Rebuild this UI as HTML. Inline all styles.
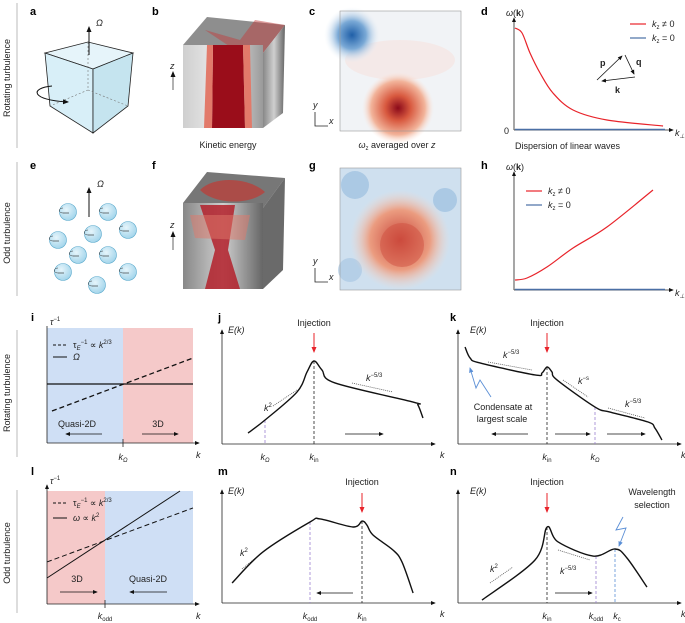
<!DOCTYPE html>
<html><head><meta charset="utf-8"><style>
body{margin:0;background:#fff;}
svg{display:block;font-family:"Liberation Sans",sans-serif;}
.pl{font-weight:bold;font-size:11px;}
.t{font-size:9px;fill:#222;}
.ti{font-size:9px;fill:#222;font-style:italic;}
</style></head><body>
<svg id="fig" width="685" height="623" viewBox="0 0 685 623">
<defs>
<marker id="ah" markerWidth="6" markerHeight="6" refX="5" refY="3" orient="auto"><path d="M0,0.5 L6,3 L0,5.5 Z" fill="#111"/></marker>
<marker id="ahr" markerWidth="6" markerHeight="6" refX="5" refY="3" orient="auto"><path d="M0,0.5 L6,3 L0,5.5 Z" fill="#e8232a"/></marker>
<marker id="ahb" markerWidth="6" markerHeight="6" refX="5" refY="3" orient="auto"><path d="M0,0.5 L6,3 L0,5.5 Z" fill="#5b8fd6"/></marker>
<radialGradient id="gblue" cx="0.5" cy="0.5" r="0.5"><stop offset="0" stop-color="#1f5fa8"/><stop offset="0.5" stop-color="#7aa9d6"/><stop offset="1" stop-color="#e8f0f8" stop-opacity="0"/></radialGradient>
<radialGradient id="gred" cx="0.5" cy="0.5" r="0.5"><stop offset="0" stop-color="#8b0a1a"/><stop offset="0.35" stop-color="#d8593f"/><stop offset="0.75" stop-color="#f2b49b"/><stop offset="1" stop-color="#fbe6dc" stop-opacity="0"/></radialGradient>
<radialGradient id="gred2" cx="0.5" cy="0.5" r="0.5"><stop offset="0" stop-color="#c8453a"/><stop offset="0.6" stop-color="#eb9c80"/><stop offset="1" stop-color="#f7d8c9" stop-opacity="0"/></radialGradient>
<radialGradient id="sph" cx="0.4" cy="0.35" r="0.7"><stop offset="0" stop-color="#e6f5fb"/><stop offset="1" stop-color="#9fd3ea"/></radialGradient>
<linearGradient id="gray1" x1="0" y1="0" x2="1" y2="0"><stop offset="0" stop-color="#cfcfcf"/><stop offset="0.5" stop-color="#eeeeee"/><stop offset="1" stop-color="#9a9a9a"/></linearGradient>
<linearGradient id="gray2" x1="0" y1="0" x2="1" y2="0"><stop offset="0" stop-color="#888"/><stop offset="0.5" stop-color="#cfcfcf"/><stop offset="1" stop-color="#666"/></linearGradient>
</defs>

<line x1="17" y1="3" x2="17" y2="148" stroke="#bbb"/>
<line x1="17" y1="162" x2="17" y2="296" stroke="#bbb"/>
<line x1="17" y1="330" x2="17" y2="457" stroke="#bbb"/>
<line x1="17" y1="490" x2="17" y2="613" stroke="#bbb"/>
<text class="t" font-size="10" transform="translate(10,78) rotate(-90)" text-anchor="middle">Rotating turbulence</text>
<text class="t" font-size="10" transform="translate(10,233) rotate(-90)" text-anchor="middle">Odd turbulence</text>
<text class="t" font-size="10" transform="translate(10,393) rotate(-90)" text-anchor="middle">Rotating turbulence</text>
<text class="t" font-size="10" transform="translate(10,553) rotate(-90)" text-anchor="middle">Odd turbulence</text>

<g class="pl">
<text x="30" y="15">a</text><text x="152" y="15">b</text><text x="309" y="15">c</text><text x="481" y="15">d</text>
<text x="30" y="169">e</text><text x="152" y="169">f</text><text x="309" y="169">g</text><text x="481" y="169">h</text>
<text x="31" y="321">i</text><text x="218" y="321">j</text><text x="450" y="321">k</text>
<text x="31" y="475">l</text><text x="218" y="475">m</text><text x="450" y="475">n</text>
</g>

<g>
<polygon points="45,53 88,42 133,53 93,69" fill="#e6f4fa" stroke="#222" stroke-width="0.8"/>
<polygon points="45,53 93,69 93,133 50,106" fill="#d8eff8" stroke="#222" stroke-width="0.8"/>
<polygon points="93,69 133,53 128,106 93,133" fill="#c5e4ef" stroke="#222" stroke-width="0.8"/>
<line x1="88" y1="42" x2="88" y2="90" stroke="#777" stroke-dasharray="2,2" stroke-width="0.6"/>
<line x1="88" y1="90" x2="50" y2="106" stroke="#777" stroke-dasharray="2,2" stroke-width="0.6"/>
<line x1="88" y1="90" x2="128" y2="106" stroke="#777" stroke-dasharray="2,2" stroke-width="0.6"/>
<line x1="89" y1="55" x2="89" y2="27" stroke="#111" stroke-width="1" marker-end="url(#ah)"/>
<text x="96" y="26" class="ti">Ω</text>
<path d="M52,86 C30,88 30,100 68,102" fill="none" stroke="#111" stroke-width="1" marker-end="url(#ah)"/>
</g>

<g>
<polygon points="183,45 207,17 285,25 263,53" fill="#8e8e8e"/>
<polygon points="205,30 240,40 255,20 285,25 263,53 235,50" fill="#c04040" opacity="0.5"/>
<rect x="183" y="45" width="80" height="83" fill="url(#gray1)"/>
<path d="M213,45 L243,45 L245,128 L212,128 Z" fill="#9a0d1a"/>
<path d="M207,45 L213,45 L212,128 L204,128 Z" fill="#e27a6a"/>
<path d="M243,45 L250,45 L252,128 L245,128 Z" fill="#e27a6a"/>
<polygon points="263,53 285,25 283,113 263,128" fill="url(#gray2)"/>
<line x1="173" y1="90" x2="173" y2="72" stroke="#666" stroke-width="1" marker-end="url(#ah)"/>
<text x="170" y="69" class="ti">z</text>
<text x="228" y="148" class="t" font-size="10" text-anchor="middle">Kinetic energy</text>
</g>

<g>
<rect x="340" y="11" width="121" height="120" fill="#f1f3f6"/>
<ellipse cx="400" cy="60" rx="55" ry="20" fill="#f6e3df" opacity="0.6"/>
<circle cx="352" cy="35" r="28" fill="url(#gblue)"/>
<circle cx="398" cy="108" r="36" fill="url(#gred)"/>
<rect x="340" y="11" width="121" height="120" fill="none" stroke="#999" stroke-width="0.6"/>
<polyline points="315,112 315,126 328,126" fill="none" stroke="#222" stroke-width="0.8"/>
<text x="313" y="108" class="ti">y</text><text x="329" y="124" class="ti">x</text>
<text x="397" y="148" class="t" font-size="10" text-anchor="middle"><tspan font-style="italic">ω</tspan><tspan font-size="6" dy="2">z</tspan><tspan dy="-2"> averaged over </tspan><tspan font-style="italic">z</tspan></text>
</g>

<g id="pd">
<line x1="514" y1="130" x2="514" y2="18" stroke="#222" stroke-width="0.8" marker-end="url(#ah)"/>
<line x1="514" y1="130" x2="673" y2="130" stroke="#222" stroke-width="0.8" marker-end="url(#ah)"/>
<text x="506" y="16" class="t"><tspan font-style="italic">ω</tspan>(<tspan font-weight="bold">k</tspan>)</text>
<text x="504" y="134" class="t">0</text>
<text x="675" y="136" class="ti">k<tspan font-size="6" dy="2">⊥</tspan></text>
<line x1="630" y1="24" x2="646" y2="24" stroke="#e8232a" stroke-width="1.2"/>
<line x1="630" y1="38" x2="646" y2="38" stroke="#4a6fa5" stroke-width="1.2"/>
<text x="652" y="27" class="t"><tspan font-style="italic">k</tspan><tspan font-size="6" dy="2">z</tspan><tspan dy="-2"> ≠ 0</tspan></text>
<text x="652" y="41" class="t"><tspan font-style="italic">k</tspan><tspan font-size="6" dy="2">z</tspan><tspan dy="-2"> = 0</tspan></text>
<line x1="597" y1="80" x2="622" y2="56" stroke="#111" stroke-width="0.8" marker-end="url(#ah)"/>
<line x1="625" y1="55" x2="634" y2="74" stroke="#111" stroke-width="0.8" marker-end="url(#ah)"/>
<line x1="635" y1="77" x2="602" y2="81" stroke="#111" stroke-width="0.8" marker-end="url(#ah)"/>
<text x="600" y="66" class="t" font-weight="bold">p</text><text x="636" y="65" class="t" font-weight="bold">q</text><text x="615" y="93" class="t" font-weight="bold">k</text>
<text x="515" y="149" class="t" font-size="10">Dispersion of linear waves</text>
</g>

<g id="pe">
<line x1="89" y1="217" x2="89" y2="188" stroke="#111" stroke-width="1" marker-end="url(#ah)"/>
<text x="97" y="187" class="ti">Ω</text>
</g>

<g>
<polygon points="183,203 207,172 285,178 263,208" fill="#777"/>
<path d="M200,190 C215,175 250,178 265,192 C250,205 215,205 200,190 Z" fill="#c23a35" opacity="0.7"/>
<rect x="183" y="203" width="80" height="86" fill="url(#gray2)"/>
<path d="M200,205 L235,205 L228,250 L240,289 L205,289 L215,250 Z" fill="#b3202a" opacity="0.85"/>
<path d="M190,215 L250,215 L245,240 L195,238 Z" fill="#e0786a" opacity="0.5"/>
<polygon points="263,208 285,178 283,270 263,289" fill="#6a6a6a"/>
<line x1="173" y1="250" x2="173" y2="232" stroke="#666" stroke-width="1" marker-end="url(#ah)"/>
<text x="170" y="228" class="ti">z</text>
</g>

<g>
<rect x="340" y="168" width="121" height="122" fill="#cfe0ef"/>
<circle cx="355" cy="185" r="14" fill="#9bbfe0" opacity="0.7"/>
<circle cx="445" cy="200" r="12" fill="#9bbfe0" opacity="0.7"/>
<circle cx="350" cy="270" r="12" fill="#a9c8e4" opacity="0.7"/>
<circle cx="400" cy="240" r="50" fill="url(#gred2)"/>
<circle cx="402" cy="245" r="22" fill="#d05040" opacity="0.5"/>
<rect x="340" y="168" width="121" height="122" fill="none" stroke="#999" stroke-width="0.6"/>
<polyline points="315,268 315,282 328,282" fill="none" stroke="#222" stroke-width="0.8"/>
<text x="313" y="264" class="ti">y</text><text x="329" y="280" class="ti">x</text>
</g>

<g id="ph">
<line x1="514" y1="290" x2="514" y2="172" stroke="#222" stroke-width="0.8" marker-end="url(#ah)"/>
<line x1="514" y1="290" x2="673" y2="290" stroke="#222" stroke-width="0.8" marker-end="url(#ah)"/>
<text x="506" y="170" class="t"><tspan font-style="italic">ω</tspan>(<tspan font-weight="bold">k</tspan>)</text>
<text x="675" y="296" class="ti">k<tspan font-size="6" dy="2">⊥</tspan></text>
<line x1="526" y1="191" x2="542" y2="191" stroke="#e8232a" stroke-width="1.2"/>
<line x1="526" y1="205" x2="542" y2="205" stroke="#4a6fa5" stroke-width="1.2"/>
<text x="548" y="194" class="t"><tspan font-style="italic">k</tspan><tspan font-size="6" dy="2">z</tspan><tspan dy="-2"> ≠ 0</tspan></text>
<text x="548" y="208" class="t"><tspan font-style="italic">k</tspan><tspan font-size="6" dy="2">z</tspan><tspan dy="-2"> = 0</tspan></text>
</g>

<g id="pi">
<rect x="47" y="328" width="76" height="115" fill="#cfdff5"/>
<rect x="123" y="328" width="70" height="115" fill="#f5c9c9"/>
<line x1="47" y1="443" x2="47" y2="326" stroke="#222" stroke-width="0.8"/>
<line x1="47" y1="443" x2="199" y2="443" stroke="#222" stroke-width="0.8" marker-end="url(#ah)"/>
<line x1="123" y1="439" x2="123" y2="447" stroke="#222" stroke-width="0.8"/>
<text x="50" y="325" class="ti">τ<tspan font-size="6" dy="-4" font-style="normal">−1</tspan></text>
<line x1="53" y1="345" x2="67" y2="345" stroke="#111" stroke-dasharray="3,2"/>
<text x="73" y="348" class="t">τ<tspan font-size="6" dy="2" font-style="italic">E</tspan><tspan font-size="6" dy="-6">−1</tspan><tspan dy="4"> ∝ </tspan><tspan font-style="italic">k</tspan><tspan font-size="6" dy="-4">2/3</tspan></text>
<line x1="53" y1="357" x2="67" y2="357" stroke="#111"/>
<text x="73" y="360" class="ti">Ω</text>
<text x="77" y="427" class="t" text-anchor="middle">Quasi-2D</text>
<line x1="102" y1="434" x2="66" y2="434" stroke="#111" stroke-width="0.8" marker-end="url(#ah)"/>
<text x="158" y="427" class="t" text-anchor="middle">3D</text>
<line x1="142" y1="434" x2="178" y2="434" stroke="#111" stroke-width="0.8" marker-end="url(#ah)"/>
<text x="123" y="460" class="ti" text-anchor="middle">k<tspan font-size="6" dy="2">Ω</tspan></text>
<text x="196" y="458" class="ti">k</text>
</g>

<g id="pl">
<rect x="47" y="491" width="58" height="113" fill="#f5c9c9"/>
<rect x="105" y="491" width="88" height="113" fill="#cfdff5"/>
<line x1="47" y1="604" x2="47" y2="485" stroke="#222" stroke-width="0.8" marker-end="url(#ah)"/>
<line x1="47" y1="604" x2="199" y2="604" stroke="#222" stroke-width="0.8" marker-end="url(#ah)"/>
<line x1="105" y1="600" x2="105" y2="608" stroke="#222" stroke-width="0.8"/>
<text x="50" y="484" class="ti">τ<tspan font-size="6" dy="-4" font-style="normal">−1</tspan></text>
<line x1="53" y1="503" x2="67" y2="503" stroke="#111" stroke-dasharray="3,2"/>
<text x="73" y="506" class="t">τ<tspan font-size="6" dy="2" font-style="italic">E</tspan><tspan font-size="6" dy="-6">−1</tspan><tspan dy="4"> ∝ </tspan><tspan font-style="italic">k</tspan><tspan font-size="6" dy="-4">2/3</tspan></text>
<line x1="53" y1="518" x2="67" y2="518" stroke="#111"/>
<text x="73" y="521" class="t"><tspan font-style="italic">ω</tspan> ∝ <tspan font-style="italic">k</tspan><tspan font-size="6" dy="-4">2</tspan></text>
<text x="77" y="582" class="t" text-anchor="middle">3D</text>
<line x1="60" y1="592" x2="97" y2="592" stroke="#111" stroke-width="0.8" marker-end="url(#ah)"/>
<text x="148" y="582" class="t" text-anchor="middle">Quasi-2D</text>
<line x1="167" y1="592" x2="130" y2="592" stroke="#111" stroke-width="0.8" marker-end="url(#ah)"/>
<text x="105" y="619" class="ti" text-anchor="middle">k<tspan font-size="6" dy="2" font-style="normal">odd</tspan></text>
<text x="196" y="619" class="ti">k</text>
</g>

<g id="pj">
<line x1="222" y1="444" x2="222" y2="330" stroke="#222" stroke-width="0.8" marker-end="url(#ah)"/>
<line x1="222" y1="444" x2="435" y2="444" stroke="#222" stroke-width="0.8" marker-end="url(#ah)"/>
<text x="228" y="333" class="ti">E(k)</text>
<text x="440" y="458" class="ti">k</text>
<text x="314" y="326" class="t" text-anchor="middle">Injection</text>
<line x1="314" y1="333" x2="314" y2="352" stroke="#e8232a" marker-end="url(#ahr)"/>
<line x1="265" y1="420" x2="265" y2="444" stroke="#9b7fd1" stroke-dasharray="3,2" stroke-width="0.8"/>
<line x1="314" y1="361" x2="314" y2="444" stroke="#222" stroke-dasharray="3,2" stroke-width="0.8"/>
<line x1="273" y1="406" x2="297" y2="390" stroke="#555" stroke-dasharray="1,1" stroke-width="0.8"/>
<text x="264" y="411" class="ti">k<tspan font-size="6" dy="-4" font-style="normal">2</tspan></text>
<line x1="352" y1="383" x2="393" y2="392" stroke="#555" stroke-dasharray="1,1" stroke-width="0.8"/>
<text x="366" y="381" class="ti">k<tspan font-size="6" dy="-4" font-style="normal">−5/3</tspan></text>
<line x1="345" y1="434" x2="383" y2="434" stroke="#111" stroke-width="0.8" marker-end="url(#ah)"/>
<text x="265" y="460" class="ti" text-anchor="middle">k<tspan font-size="6" dy="2">Ω</tspan></text>
<text x="314" y="460" class="ti" text-anchor="middle">k<tspan font-size="6" dy="2" font-style="normal">in</tspan></text>
</g>

<g id="pk">
<line x1="458" y1="444" x2="458" y2="330" stroke="#222" stroke-width="0.8" marker-end="url(#ah)"/>
<line x1="458" y1="444" x2="681" y2="444" stroke="#222" stroke-width="0.8" marker-end="url(#ah)"/>
<text x="470" y="333" class="ti">E(k)</text>
<text x="681" y="458" class="ti">k</text>
<text x="547" y="326" class="t" text-anchor="middle">Injection</text>
<line x1="547" y1="333" x2="547" y2="352" stroke="#e8232a" marker-end="url(#ahr)"/>
<line x1="547" y1="367" x2="547" y2="444" stroke="#222" stroke-dasharray="3,2" stroke-width="0.8"/>
<line x1="595" y1="407" x2="595" y2="444" stroke="#9b7fd1" stroke-dasharray="3,2" stroke-width="0.8"/>
<line x1="488" y1="362" x2="532" y2="370" stroke="#555" stroke-dasharray="1,1" stroke-width="0.8"/>
<text x="503" y="358" class="ti">k<tspan font-size="6" dy="-4" font-style="normal">−5/3</tspan></text>
<line x1="563" y1="380" x2="588" y2="397" stroke="#555" stroke-dasharray="1,1" stroke-width="0.8"/>
<text x="578" y="384" class="ti">k<tspan font-size="6" dy="-4" font-style="normal">−s</tspan></text>
<line x1="608" y1="408" x2="645" y2="418" stroke="#555" stroke-dasharray="1,1" stroke-width="0.8"/>
<text x="625" y="407" class="ti">k<tspan font-size="6" dy="-4" font-style="normal">−5/3</tspan></text>
<path d="M491,397 L480,380 L476,388 L470,368" fill="none" stroke="#5b8fd6" stroke-width="0.9" marker-end="url(#ahb)"/>
<text x="503" y="410" class="t" text-anchor="middle">Condensate at</text>
<text x="502" y="422" class="t" text-anchor="middle">largest scale</text>
<line x1="528" y1="434" x2="492" y2="434" stroke="#111" stroke-width="0.8" marker-end="url(#ah)"/>
<line x1="555" y1="434" x2="590" y2="434" stroke="#111" stroke-width="0.8" marker-end="url(#ah)"/>
<line x1="607" y1="434" x2="645" y2="434" stroke="#111" stroke-width="0.8" marker-end="url(#ah)"/>
<text x="547" y="460" class="ti" text-anchor="middle">k<tspan font-size="6" dy="2" font-style="normal">in</tspan></text>
<text x="595" y="460" class="ti" text-anchor="middle">k<tspan font-size="6" dy="2">Ω</tspan></text>
</g>

<g id="pm">
<line x1="222" y1="603" x2="222" y2="490" stroke="#222" stroke-width="0.8" marker-end="url(#ah)"/>
<line x1="222" y1="603" x2="435" y2="603" stroke="#222" stroke-width="0.8" marker-end="url(#ah)"/>
<text x="228" y="494" class="ti">E(k)</text>
<text x="440" y="617" class="ti">k</text>
<text x="362" y="485" class="t" text-anchor="middle">Injection</text>
<line x1="362" y1="493" x2="362" y2="512" stroke="#e8232a" marker-end="url(#ahr)"/>
<line x1="310" y1="522" x2="310" y2="603" stroke="#9b7fd1" stroke-dasharray="3,2" stroke-width="0.8"/>
<line x1="362" y1="521" x2="362" y2="603" stroke="#222" stroke-dasharray="3,2" stroke-width="0.8"/>
<line x1="242" y1="569" x2="263" y2="552" stroke="#555" stroke-dasharray="1,1" stroke-width="0.8"/>
<text x="240" y="556" class="ti">k<tspan font-size="6" dy="-4" font-style="normal">2</tspan></text>
<line x1="353" y1="593" x2="317" y2="593" stroke="#111" stroke-width="0.8" marker-end="url(#ah)"/>
<text x="310" y="619" class="ti" text-anchor="middle">k<tspan font-size="6" dy="2" font-style="normal">odd</tspan></text>
<text x="362" y="619" class="ti" text-anchor="middle">k<tspan font-size="6" dy="2" font-style="normal">in</tspan></text>
</g>

<g id="pn">
<line x1="458" y1="603" x2="458" y2="490" stroke="#222" stroke-width="0.8" marker-end="url(#ah)"/>
<line x1="458" y1="603" x2="681" y2="603" stroke="#222" stroke-width="0.8" marker-end="url(#ah)"/>
<text x="470" y="494" class="ti">E(k)</text>
<text x="681" y="617" class="ti">k</text>
<text x="547" y="485" class="t" text-anchor="middle">Injection</text>
<line x1="547" y1="493" x2="547" y2="512" stroke="#e8232a" marker-end="url(#ahr)"/>
<line x1="547" y1="527" x2="547" y2="603" stroke="#222" stroke-dasharray="3,2" stroke-width="0.8"/>
<line x1="596" y1="556" x2="596" y2="603" stroke="#9b7fd1" stroke-dasharray="3,2" stroke-width="0.8"/>
<line x1="615" y1="549" x2="615" y2="603" stroke="#5b8fd6" stroke-dasharray="3,2" stroke-width="0.8"/>
<line x1="490" y1="583" x2="513" y2="567" stroke="#555" stroke-dasharray="1,1" stroke-width="0.8"/>
<text x="490" y="572" class="ti">k<tspan font-size="6" dy="-4" font-style="normal">2</tspan></text>
<line x1="558" y1="550" x2="590" y2="560" stroke="#555" stroke-dasharray="1,1" stroke-width="0.8"/>
<text x="560" y="574" class="ti">k<tspan font-size="6" dy="-4" font-style="normal">−5/3</tspan></text>
<text x="652" y="495" class="t" text-anchor="middle">Wavelength</text>
<text x="652" y="508" class="t" text-anchor="middle">selection</text>
<path d="M623,517 L616,530 L626,528 L619,546" fill="none" stroke="#5b8fd6" stroke-width="0.9" marker-end="url(#ahb)"/>
<line x1="555" y1="593" x2="592" y2="593" stroke="#111" stroke-width="0.8" marker-end="url(#ah)"/>
<text x="547" y="619" class="ti" text-anchor="middle">k<tspan font-size="6" dy="2" font-style="normal">in</tspan></text>
<text x="596" y="619" class="ti" text-anchor="middle">k<tspan font-size="6" dy="2" font-style="normal">odd</tspan></text>
<text x="617" y="619" class="ti" text-anchor="middle">k<tspan font-size="6" dy="2" font-style="normal">c</tspan></text>
</g>
</svg>
<script>
const dK = [0, 4.7, 10, 16.7, 25.3, 38.7, 61.3, 98.7];
const dW = [102, 97, 77, 57, 37, 20, 10, 4];
const hK = [0, 8, 21.3, 38.7, 61.3, 92];
const hW = [10, 12, 23, 42, 63, 100];
const iK = [0, 100];
const iOmega = [51.3, 51.3];
const iTauE = [27.8, 73.9];
const lK = [0, 91.1];
const lOmega = [23, 100];
const lKe = [0, 100];
const lTauE = [37.2, 85];
const jK = [12.4, 20.5, 35.7, 40.5, 43.8, 47.6, 53.8, 91, 93.3, 95.7];
const jE = [9.9, 21.6, 46.8, 64.9, 74.8, 66.7, 55, 37.8, 35.1, 23.4];
const kK = [3.2, 5.5, 10, 35, 38.2, 40.5, 42.7, 45, 62.3, 69.1, 86.4, 89.5, 92.7];
const kE = [87.4, 77.5, 73, 62.2, 64, 69.4, 64.9, 57.7, 33.3, 28.8, 19.8, 14.4, 3.6];
const mK = [4.8, 19.5, 41.9, 46.7, 62.4, 66.7, 69, 71.9, 81.4, 85.7, 91];
const mE = [18.2, 46.4, 73.6, 76.4, 69.1, 74.5, 70.9, 61.8, 48.2, 37.3, 9.1];
const nK = [10.9, 35, 40.5, 45.5, 61.4, 71.4, 76.8, 85.9];
const nE = [2.7, 39.1, 69.1, 55.5, 42.7, 49.1, 40.9, 14.5];
const NS = 'http://www.w3.org/2000/svg';
function axis(x0, w, y0, h) { return { x: v => x0 + v * w / 100, y: v => y0 - v * h / 100 }; }
function smooth(pts) {
  let d = 'M' + pts[0][0] + ',' + pts[0][1];
  for (let i = 0; i < pts.length - 1; i++) {
    const p0 = pts[Math.max(i - 1, 0)], p1 = pts[i], p2 = pts[i + 1], p3 = pts[Math.min(i + 2, pts.length - 1)];
    const c1 = [p1[0] + (p2[0] - p0[0]) / 6, p1[1] + (p2[1] - p0[1]) / 6];
    const c2 = [p2[0] - (p3[0] - p1[0]) / 6, p2[1] - (p3[1] - p1[1]) / 6];
    d += ' C' + c1.join(',') + ' ' + c2.join(',') + ' ' + p2.join(',');
  }
  return d;
}
function curve(gid, ax, xs, ys, stroke, width, dash, isSmooth) {
  const pts = xs.map((v, i) => [ax.x(v), ax.y(ys[i])]);
  const p = document.createElementNS(NS, 'path');
  p.setAttribute('d', isSmooth ? smooth(pts) : 'M' + pts.map(q => q.join(',')).join(' L'));
  p.setAttribute('fill', 'none');
  p.setAttribute('stroke', stroke);
  p.setAttribute('stroke-width', width);
  if (dash) p.setAttribute('stroke-dasharray', dash);
  document.getElementById(gid).appendChild(p);
  return p;
}
let el;
const axD = axis(515, 150, 130, 100);
el = curve('pd', axD, dK, dW, '#e8232a', 1.2, null, true);


el = curve('pd', axD, [0, 100], [0.5, 0.5], '#4a6fa5', 1.6, null, false);


const axH = axis(515, 150, 290, 100);
el = curve('ph', axH, hK, hW, '#e8232a', 1.2, null, true);


el = curve('ph', axH, [0, 100], [0.5, 0.5], '#4a6fa5', 1.6, null, false);


const axI = axis(47, 146, 443, 115);
el = curve('pi', axI, iK, iOmega, '#111', 1.3, null, false);


el = curve('pi', axI, [3.4, 100], iTauE, '#111', 1.3, '5,3', false);


const axL = axis(47, 146, 604, 113);
el = curve('pl', axL, lK, lOmega, '#111', 1, null, false);


el = curve('pl', axL, lKe, lTauE, '#111', 1, '5,3', false);


el = curve('pj', axis(222, 210, 444, 111), jK, jE, '#111', 1.4, null, true);


el = curve('pk', axis(458, 220, 444, 111), kK, kE, '#111', 1.4, null, true);


el = curve('pm', axis(222, 210, 603, 110), mK, mE, '#111', 1.4, null, true);


el = curve('pn', axis(458, 220, 603, 110), nK, nE, '#111', 1.4, null, true);


[[68,212],[108,212],[58,240],[93,234],[128,230],[78,255],[108,255],[63,272],[128,272],[97,285]].forEach(c => {
  const g = document.createElementNS(NS, 'g');
  
  
  g.innerHTML = '<circle cx="' + c[0] + '" cy="' + c[1] + '" r="8.5" fill="url(#sph)" stroke="#5aa9cc" stroke-width="0.6"/>' +
    '<path d="M' + (c[0]-5) + ',' + (c[1]-4) + ' a3,2 0 1 0 0,5" fill="none" stroke="#333" stroke-width="0.5"/>' +
    '<line x1="' + (c[0]-5) + '" y1="' + (c[1]+1) + '" x2="' + (c[0]+1) + '" y2="' + (c[1]+1) + '" stroke="#222" stroke-width="0.6"/>';
  document.getElementById('pe').appendChild(g);
});
</script>
</body></html>
